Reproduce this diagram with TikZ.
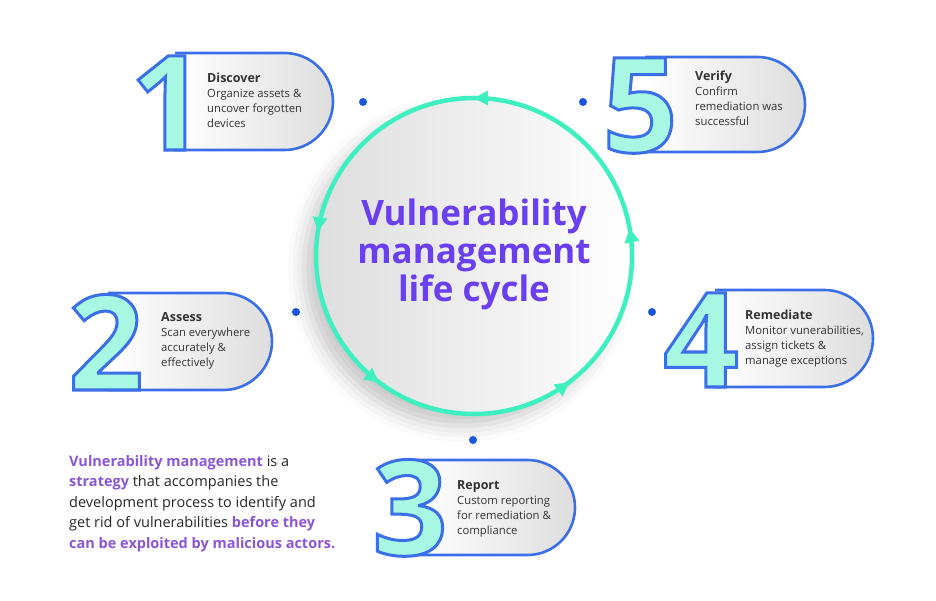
\documentclass[tikz,border=0pt]{standalone}
\usepackage{fontspec}
\setmainfont{Open Sans}
\usetikzlibrary{shadows.blur,decorations.markings,arrows.meta}
\definecolor{bblue}{HTML}{3B6FE8}
\definecolor{dotblue}{HTML}{1A56DB}
\definecolor{teal}{HTML}{3EF0C0}
\definecolor{tealfill}{HTML}{A8F7E3}
\definecolor{ttl}{HTML}{6A3FF0}
\definecolor{pur}{HTML}{8B55D6}
\definecolor{txt}{HTML}{333333}
\newcommand{\outl}[1]{\special{pdf:literal direct 2 Tr 3 w 0.23 0.435 0.91 RG}#1\special{pdf:literal direct 0 Tr}}
\tikzset{
  pillbox/.style={draw=bblue,line width=2.6pt,left color=white,right color=black!13},
  digit/.style={anchor=base,inner sep=0pt,text=tealfill,font=\fontsize{132}{132}\bfseries},
  desc/.style={anchor=north west,align=left,inner sep=0pt,text=txt,font=\fontsize{11.3}{15}\selectfont},
  bdot/.style={circle,fill=dotblue,inner sep=0pt,minimum size=8pt}
}
\newcommand{\pill}[5]{% name L R T B
  \pgfmathsetmacro{\rr}{(#4-#5)/2}
  \draw[pillbox] (#2,#5) -- ({#3-\rr},#5) arc[start angle=-90,end angle=90,radius=\rr] -- (#2,#4);
  \coordinate (#1) at (#2,#5);
}
\begin{document}
\begin{tikzpicture}[x=1pt,y=1pt]
\useasboundingbox (0,0) rectangle (936,600);
% circle
\node[circle,minimum size=316pt,inner sep=0pt,
  shading angle=135,left color=black!13,right color=white,
  blur shadow={shadow xshift=-12pt,shadow yshift=-12pt,shadow blur radius=16pt,shadow opacity=22}] (c) at (474,344) {};
\draw[teal,line width=4.5pt,decoration={markings,
  mark=at position 0.028 with {\arrow{Triangle[length=14pt,width=14pt]}},
  mark=at position 0.25 with {\arrow{Triangle[length=14pt,width=14pt]}},
  mark=at position 0.475 with {\arrow{Triangle[length=14pt,width=14pt]}},
  mark=at position 0.647 with {\arrow{Triangle[length=14pt,width=14pt]}},
  mark=at position 0.853 with {\arrow{Triangle[length=14pt,width=14pt]}}},postaction={decorate}]
  (c.center) ++(0:158) arc[start angle=0,end angle=360,radius=158];
\node[text=ttl,align=center,font=\fontsize{35}{38}\bfseries] (title) at (474,346) {Vulnerability\\management\\life cycle};
% boxes
\pill{b1}{175}{333}{547}{450}
\pill{b5}{645}{805}{543}{448}
\pill{b2}{108}{272}{307}{210}
\pill{b4}{715}{873}{310}{213}
\pill{b3}{415}{575}{140}{45}
\node[digit] (d1) at (168,450) {\outl{1}};
\node[digit] (d5) at (640,448) {\outl{5}};
\node[digit] (d2) at (106,210) {\outl{2}};
\node[digit] (d4) at (701,213) {\outl{4}};
\node[digit] (d3) at (410,45) {\outl{3}};
\node[desc] (t1) at (207,527) {{\bfseries\fontsize{12.5}{15}\selectfont Discover}\\Organize assets \&\\uncover forgotten\\devices};
\node[desc] (t5) at (695,529) {{\bfseries\fontsize{12.5}{15}\selectfont Verify}\\Confirm\\remediation was\\successful};
\node[desc] (t2) at (161,288) {{\bfseries\fontsize{12.5}{15}\selectfont Assess}\\Scan everywhere\\accurately \&\\effectively};
\node[desc] (t4) at (745,290) {{\bfseries\fontsize{12.5}{15}\selectfont Remediate}\\Monitor vunerabilities,\\assign tickets \&\\manage exceptions};
\node[desc] (t3) at (457,120) {{\bfseries\fontsize{12.5}{15}\selectfont Report}\\Custom reporting\\for remediation \&\\compliance};
% dots
\node[bdot] (p1) at (363,498) {};
\node[bdot] (p5) at (583,498) {};
\node[bdot] (p2) at (296,288) {};
\node[bdot] (p4) at (652,288) {};
\node[bdot] (p3) at (473,160) {};
% paragraph
\node[anchor=north west,align=left,inner sep=0pt,text=black!85,font=\fontsize{14.5}{20.5}\selectfont] (para) at (69,145)
{{\bfseries\color{pur}Vulnerability management} is a\\
{\bfseries\color{pur}strategy} that accompanies the\\
development process to identify and\\
get rid of vulnerabilities {\bfseries\color{pur}before they}\\
{\bfseries\color{pur}can be exploited by malicious actors.}};
\end{tikzpicture}
\end{document}
